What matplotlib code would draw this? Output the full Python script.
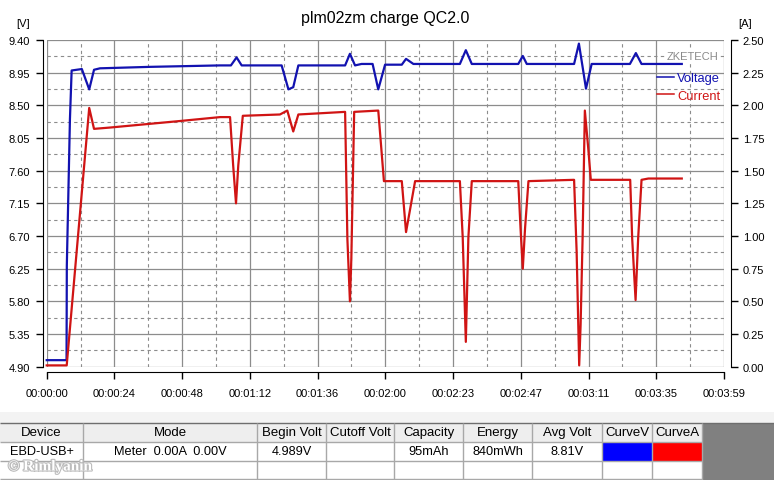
import numpy as np
import matplotlib.pyplot as plt
from matplotlib.lines import Line2D
from matplotlib.patches import Rectangle
import matplotlib.patheffects as pe

plt.rcParams['font.family'] = ['Liberation Sans', 'DejaVu Sans']

# Logged samples (time in seconds) ==============
t_volt = [0, 7.0, 7.1, 8.2, 8.8, 12.4, 15.0, 16.7, 18.8, 36.4,
          61.2, 65.0, 67.0, 68.8, 82.9, 85.3, 87.0, 88.8, 105.3, 107.0,
          108.8, 111.1, 115.0, 117.0, 119.4, 125.3, 126.8, 129.4, 145.8, 147.9,
          150.0, 166.4, 168.0, 169.4, 186.1, 187.8, 189.1, 190.3, 192.3, 205.8,
          207.9, 209.9, 224.1]
volt   = [4.99, 4.99, 6.29, 8.31, 8.98, 9.00, 8.72, 8.99, 9.01, 9.03,
          9.05, 9.05, 9.16, 9.05, 9.05, 8.72, 8.75, 9.05, 9.05, 9.21,
          9.05, 9.07, 9.07, 8.72, 9.06, 9.06, 9.14, 9.07, 9.07, 9.26,
          9.07, 9.07, 9.18, 9.07, 9.07, 9.35, 9.03, 8.73, 9.07, 9.07,
          9.22, 9.07, 9.07]

t_curr = [0, 7.06, 15.0, 16.7, 22.3, 47.0, 61.2, 64.7, 65.8, 66.8,
          67.6, 69.2, 82.3, 84.9, 87.0, 88.8, 105.3, 106.1, 107.0, 107.5,
          108.5, 117.0, 119.0, 125.3, 126.8, 130.0, 145.8, 146.8, 147.9, 148.8,
          150.0, 166.4, 167.2, 168.0, 168.8, 170.0, 186.1, 187.0, 187.9, 188.4,
          189.1, 189.9, 191.1, 192.0, 205.9, 206.6, 207.8, 208.7, 209.9, 212.3,
          224.1]
curr   = [0.01, 0.01, 1.98, 1.82, 1.83, 1.88, 1.91, 1.91, 1.54, 1.25,
          1.54, 1.92, 1.93, 1.96, 1.80, 1.93, 1.95, 0.98, 0.50, 0.83,
          1.95, 1.96, 1.42, 1.42, 1.03, 1.42, 1.42, 0.99, 0.19, 0.99,
          1.42, 1.42, 1.06, 0.75, 1.06, 1.42, 1.43, 0.88, 0.01, 0.32,
          0.98, 1.96, 1.67, 1.43, 1.43, 0.98, 0.51, 0.98, 1.43, 1.44,
          1.44]

t_max = 239
time_labels = ['00:00:00', '00:00:24', '00:00:48', '00:01:12', '00:01:36', '00:02:00',
               '00:02:23', '00:02:47', '00:03:11', '00:03:35', '00:03:59']

table_head = ['Device', 'Mode', 'Begin Volt', 'Cutoff Volt', 'Capacity',
              'Energy', 'Avg Volt', 'CurveV', 'CurveA']
table_row  = ['EBD-USB+', 'Meter  0.00A  0.00V', '4.989V', '', '95mAh',
              '840mWh', '8.81V', '', '']
col_edges  = [0, 83, 257, 326, 394, 463, 532, 602, 652, 702]

V_COL = '#1212b0'
A_COL = '#d01414'
GRID  = '#8c8c8c'

W, H = 774, 481
fig = plt.figure(figsize=(W / 100, H / 100), dpi=100)

# plot frame in pixels
x0, x1, y0, y1 = 46.7, 724, 41, 367.7
ax = fig.add_axes([x0 / W, 1 - y1 / H, (x1 - x0) / W, (y1 - y0) / H])
ax.plot(t_volt, volt, color=V_COL, lw=1.6, clip_on=False, zorder=3)
ax.set_xlim(0, t_max)
ax.set_ylim(4.90, 9.40)

xt = np.linspace(0, t_max, 11)
ax.set_xticks(xt)
ax.set_xticklabels(time_labels)
ax.set_xticks((xt[:-1] + xt[1:]) / 2, minor=True)
yt = np.linspace(4.90, 9.40, 11)
ax.set_yticks(yt)
ax.set_yticklabels([f'{v:.2f}' for v in yt])
ax.set_yticks((yt[:-1] + yt[1:]) / 2, minor=True)
ax.grid(which='major', color=GRID, lw=0.9, ls='-')
ax.grid(which='minor', color=GRID, lw=0.8, ls=(0, (3, 3)))
ax.tick_params(which='minor', length=0)
ax.tick_params(which='major', direction='out', length=5, width=1,
               labelsize=8, colors='black')
ax.tick_params(axis='x', pad=6)
ax.tick_params(axis='y', pad=4)
for s in ['top', 'right']:
    ax.spines[s].set_visible(False)
ax.spines['left'].set_position(('outward', 3))
ax.spines['bottom'].set_position(('outward', 4))

ax2 = ax.twinx()
ax2.plot(t_curr, curr, color=A_COL, lw=1.6, clip_on=False)
ax2.set_ylim(0, 2.5)
at = np.linspace(0, 2.5, 11)
ax2.set_yticks(at)
ax2.set_yticklabels([f'{v:.2f}' for v in at])
ax2.tick_params(direction='out', length=5, width=1, labelsize=8, pad=3.5)
for s in ['left', 'top', 'bottom']:
    ax2.spines[s].set_visible(False)
ax2.spines['right'].set_position(('outward', 5))

handles = [Line2D([], [], color=V_COL, lw=1.1), Line2D([], [], color=A_COL, lw=1.1)]
ax2.legend(handles, ['Voltage', 'Current'], loc='upper right',
           bbox_to_anchor=(720 / W, 1 - 73 / H), bbox_transform=fig.transFigure,
           frameon=False, fontsize=9.3, handlelength=1.3, handletextpad=0.25,
           labelspacing=0.45, borderpad=0, borderaxespad=0, labelcolor='linecolor')

fig.text(718 / W, 1 - 57 / H, 'ZKETECH', ha='right', va='center', fontsize=8,
         color='#8a8a8a', bbox=dict(facecolor='white', edgecolor='none', pad=0.5))
fig.text(385 / W, 1 - 19 / H, 'plm02zm charge QC2.0', ha='center', va='center',
         fontsize=11.5)
fig.text(23.5 / W, 1 - 24 / H, '[V]', ha='center', va='center', fontsize=8)
fig.text(745 / W, 1 - 24 / H, '[A]', ha='center', va='center', fontsize=8)

# Summary table at the bottom ==============
tab = fig.add_axes([0, 0, 1, (H - 412) / H])
tab.set_xlim(0, W)
tab.set_ylim(H, 412)
tab.axis('off')
tab.add_patch(Rectangle((0, 413), W, 11, fc='#f3f3f3', ec='none'))
tab.add_patch(Rectangle((0, 424), col_edges[-1], 19, fc='#eeeeee', ec='none'))
tab.add_patch(Rectangle((col_edges[-1], 424), W - col_edges[-1], H - 424, fc='#808080', ec='none'))
tab.add_patch(Rectangle((col_edges[7], 443), col_edges[8] - col_edges[7], 19, fc='#0000ff', ec='none'))
tab.add_patch(Rectangle((col_edges[8], 443), col_edges[9] - col_edges[8], 19, fc='#ff0000', ec='none'))
tab.hlines(424, 0, W, color='#6e6e6e', lw=1)
tab.hlines([443, 462, 480], 0, col_edges[-1], color='#a8a8a8', lw=1)
tab.vlines(col_edges[1:], 424, H, color='#a8a8a8', lw=1)
for i in range(len(table_head)):
    cx = (col_edges[i] + col_edges[i + 1]) / 2
    tab.text(cx, 433.5, table_head[i], ha='center', va='center', fontsize=9.5)
    tab.text(cx, 452.5, table_row[i], ha='center', va='center', fontsize=9.2)
tab.text(8, 468, '\u00a9 Rimlyanin', ha='left', va='center', fontsize=11,
         family='Liberation Serif', fontweight='bold', color='white',
         path_effects=[pe.withStroke(linewidth=1.6, foreground='#bcbcbc')])

fig.savefig('out.png', dpi=100)
